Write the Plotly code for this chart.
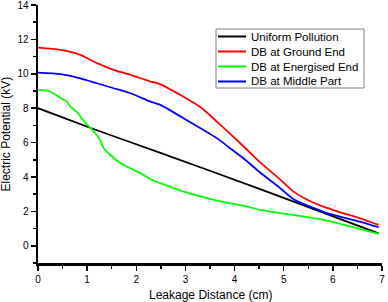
import plotly.graph_objects as go

# Leakage distance (cm) and potential (kV)
x_uniform = [0.0, 1.1, 2.49, 4.52, 6.93]
v_uniform = [8.0, 6.82, 5.4, 3.3, 0.72]

x_ground = [0.0, 0.46, 0.86, 1.2, 1.54, 1.88, 2.29, 2.49, 2.96, 3.31, 3.64, 4.25, 4.52, 4.93, 5.2, 5.5, 5.88, 6.2, 6.55, 6.93]
v_ground = [11.52, 11.39, 11.1, 10.62, 10.23, 9.94, 9.55, 9.39, 8.67, 8.05, 7.22, 5.6, 4.85, 3.85, 3.15, 2.65, 2.2, 1.9, 1.6, 1.22]

x_energ = [0.0, 0.25, 0.46, 0.59, 0.66, 0.8, 0.97, 1.1, 1.24, 1.34, 1.47, 1.68, 1.88, 2.15, 2.29, 2.49, 2.96, 3.64, 4.32, 4.52, 4.93, 5.88, 6.93]
v_energ = [9.06, 8.97, 8.58, 8.38, 8.09, 7.75, 7.13, 6.76, 6.26, 5.67, 5.28, 4.8, 4.51, 4.12, 3.87, 3.64, 3.15, 2.63, 2.24, 2.09, 1.9, 1.47, 0.69]

x_middle = [0.0, 0.46, 0.86, 1.2, 1.54, 1.88, 2.29, 2.49, 2.96, 3.64, 3.95, 4.18, 4.52, 4.93, 5.2, 5.88, 6.55, 6.93]
v_middle = [10.07, 9.98, 9.74, 9.45, 9.16, 8.87, 8.38, 8.19, 7.42, 6.26, 5.58, 5.09, 4.26, 3.35, 2.71, 1.9, 1.41, 1.08]

series_names = ["Uniform Pollution", "DB at Ground End", "DB at Energised End", "DB at Middle Part"]
series_x = [x_uniform, x_ground, x_energ, x_middle]
series_y = [v_uniform, v_ground, v_energ, v_middle]
series_colors = ["#000000", "#FF0000", "#00FF00", "#0000FF"]

W, H = 388, 302
ML, MR, MT, MB = 38, 6, 5, 39
PW, PH = W - ML - MR, H - MT - MB


def px_to_paper(px, py):
    return (px - ML) / PW, (H - MB - py) / PH


fig = go.Figure()
for name, xs, ys, col in zip(series_names, series_x, series_y, series_colors):
    fig.add_trace(go.Scatter(x=xs, y=ys, name=name, mode="lines", showlegend=False,
                             line=dict(color=col, width=1.8, shape="spline", smoothing=0.6)))

font = "Liberation Sans, Arial, sans-serif"

# legend box drawn to match the reference's compact legend
shapes = []
annotations = []
bx0, by0 = px_to_paper(216, 88)
bx1, by1 = px_to_paper(364, 29)
shapes.append(dict(type="rect", xref="paper", yref="paper", x0=bx0, y0=by0, x1=bx1, y1=by1,
                   line=dict(color="#808080", width=1), fillcolor="white", layer="above"))
for i, (name, col) in enumerate(zip(series_names, series_colors)):
    cy = 36.5 + i * 15
    lx0, ly = px_to_paper(218, cy)
    lx1, _ = px_to_paper(246, cy)
    shapes.append(dict(type="line", xref="paper", yref="paper", x0=lx0, x1=lx1, y0=ly, y1=ly,
                       line=dict(color=col, width=2), layer="above"))
    tx, _ = px_to_paper(249, cy)
    annotations.append(dict(text=name, xref="paper", yref="paper", x=tx, y=ly,
                            xanchor="left", yanchor="middle", showarrow=False,
                            font=dict(size=11.5, family=font, color="black")))

annotations += [
    dict(text="Leakage Distance (cm)", xref="paper", yref="paper", x=0.5, y=0,
         xanchor="center", yanchor="middle", yshift=-32, showarrow=False,
         font=dict(size=12, family=font)),
    dict(text="Electric Potential (kV)", xref="paper", yref="paper", x=0, y=0.5,
         xanchor="center", yanchor="middle", xshift=-32.5, textangle=-90, showarrow=False,
         font=dict(size=12, family=font)),
]

fig.update_layout(
    width=W, height=H,
    margin=dict(l=ML, r=MR, t=MT, b=MB, autoexpand=False),
    paper_bgcolor="white", plot_bgcolor="white",
    font=dict(family=font, color="black", size=10),
    showlegend=False,
    xaxis=dict(range=[0, 7], dtick=1, tick0=0, showgrid=False, zeroline=False,
               showline=True, linecolor="black", linewidth=2.5,
               ticks="outside", ticklen=5, tickwidth=1.5, tickcolor="black",
               tickfont=dict(size=10), ticklabeloverflow="allow",
               minor=dict(ticks="outside", ticklen=3, tickwidth=1.5, dtick=0.5, tickcolor="black")),
    yaxis=dict(range=[-1, 14], dtick=2, tick0=0, showgrid=False, zeroline=False,
               showline=True, linecolor="black", linewidth=2.5,
               ticks="outside", ticklen=5, tickwidth=1.5, tickcolor="black",
               tickfont=dict(size=10), ticklabeloverflow="allow",
               minor=dict(ticks="outside", ticklen=3, tickwidth=1.5, dtick=1, tickcolor="black")),
    shapes=shapes,
    annotations=annotations,
)

fig.write_html("out.html", config={"displayModeBar": False, "staticPlot": True},
               post_script="document.body.style.margin='0';document.body.style.overflow='hidden';")
